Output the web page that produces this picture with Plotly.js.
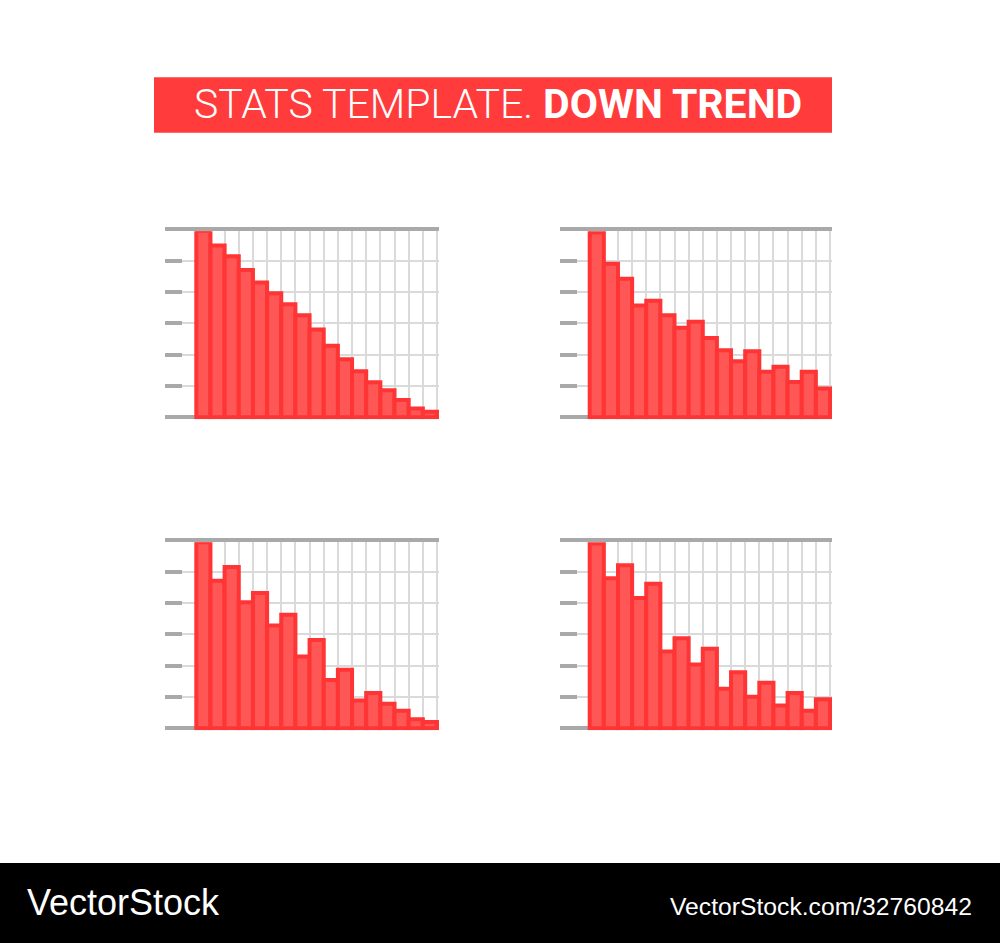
<!DOCTYPE html>
<html>
<head>
<meta charset="utf-8">
<script src="https://cdn.plot.ly/plotly-3.0.1.min.js"></script>
<style>
  html, body { margin: 0; padding: 0; background: #ffffff; }
  #chart { width: 1000px; height: 943px; }
</style>
</head>
<body>
<div id="chart"></div>
<script>
// ---- data ----
const categories = [1, 2, 3, 4, 5, 6, 7, 8, 9, 10, 11, 12, 13, 14, 15, 16, 17];
const seriesTopLeft = [5.95, 5.48, 5.14, 4.70, 4.30, 3.96, 3.61, 3.26, 2.80, 2.28, 1.85, 1.47, 1.12, 0.86, 0.55, 0.28, 0.18];
const seriesTopRight = [5.90, 4.90, 4.42, 3.57, 3.72, 3.26, 2.86, 3.05, 2.53, 2.14, 1.79, 2.11, 1.45, 1.61, 1.13, 1.45, 0.92];
const seriesBottomLeft = [5.94, 4.71, 5.15, 4.02, 4.32, 3.28, 3.62, 2.29, 2.82, 1.54, 1.87, 0.89, 1.13, 0.78, 0.56, 0.29, 0.20];
const seriesBottomRight = [5.90, 4.79, 5.20, 4.16, 4.61, 2.45, 2.87, 2.04, 2.54, 1.26, 1.79, 1.01, 1.45, 0.73, 1.13, 0.56, 0.93];
const yTickValues = [0, 1, 2, 3, 4, 5, 6];
const titleLight = "STATS TEMPLATE.";
const titleBold = "DOWN TREND";
const brandText = "VectorStock";
const brandUrl = "VectorStock.com/32760842";

// ---- layout helpers ----
const W = 1000, H = 943;
const px = v => v / W;
const py = v => 1 - v / H;

const RED_FILL = "#ff5656";
const RED_LINE = "#ff3434";
const DARK_GRAY = "#a9a9a9";
const GRID_GRAY = "#dadada";
const AXIS_W = 4;
const BAR_LINE_W = 4;

// panel geometry (pixels): plot left edge, bar block edges, value-6 line and value-0 line
const panels = [
  { data: seriesTopLeft,     left: 165, barsLeft: 196.3, barsRight: 437.0, top: 229.3, bottom: 417.3 },
  { data: seriesTopRight,    left: 560, barsLeft: 589.7, barsRight: 830.0, top: 229.3, bottom: 417.3 },
  { data: seriesBottomLeft,  left: 165, barsLeft: 196.3, barsRight: 437.0, top: 540.3, bottom: 728.3 },
  { data: seriesBottomRight, left: 560, barsLeft: 589.7, barsRight: 830.0, top: 540.3, bottom: 728.3 }
];

const gridVals = [];
for (let i = 0; i <= categories.length; i++) gridVals.push(categories[0] - 0.5 + i);

const traces = [];
const layout = {
  width: W, height: H,
  margin: { l: 0, r: 0, t: 0, b: 0 },
  paper_bgcolor: "#ffffff",
  plot_bgcolor: "rgba(0,0,0,0)",
  showlegend: false,
  bargap: 0,
  shapes: [
    { type: "rect", xref: "paper", yref: "paper", x0: px(154), x1: px(832), y0: py(132.7), y1: py(77.3),
      fillcolor: "#ff3b3b", line: { width: 0 }, layer: "below" },
    { type: "rect", xref: "paper", yref: "paper", x0: 0, x1: 1, y0: 0, y1: py(863),
      fillcolor: "#000000", line: { width: 0 }, layer: "below" }
  ],
  annotations: [
    { xref: "paper", yref: "paper", x: px(498), y: py(104), xanchor: "center", yanchor: "middle",
      text: titleLight + " <b>" + titleBold + "</b>", showarrow: false,
      font: { family: "Roboto", size: 41, color: "#ffffff", weight: 300 } },
    { xref: "paper", yref: "paper", x: px(25), y: py(902), xanchor: "left", yanchor: "middle",
      text: brandText, showarrow: false,
      font: { family: "Liberation Sans", size: 36, color: "#ffffff" } },
    { xref: "paper", yref: "paper", x: px(974), y: py(906), xanchor: "right", yanchor: "middle",
      text: brandUrl, showarrow: false,
      font: { family: "Liberation Sans", size: 24.7, color: "#ffffff" } }
  ]
};

panels.forEach((p, i) => {
  const n = i + 1;
  const suffix = n === 1 ? "" : String(n);
  const unit = (p.barsRight - p.barsLeft) / categories.length;
  const first = categories[0] - 0.5;
  const last = categories[categories.length - 1] + 0.5;
  const rangeLeft = first - (p.barsLeft - p.left) / unit;
  const rightPad = (BAR_LINE_W / 2) / unit;
  const yUnit = (p.bottom - p.top) / 6;
  const pad = (AXIS_W / 2) / yUnit;

  traces.push({
    type: "bar",
    x: categories,
    y: p.data,
    width: 1,
    xaxis: "x" + suffix,
    yaxis: "y" + suffix,
    marker: { color: RED_FILL, line: { color: RED_LINE, width: BAR_LINE_W } },
    cliponaxis: false,
    hoverinfo: "skip"
  });

  layout["xaxis" + suffix] = {
    domain: [px(p.left), px(p.barsRight + BAR_LINE_W / 2)],
    range: [rangeLeft, last + rightPad],
    anchor: "y" + suffix,
    side: "top",
    tickmode: "array",
    tickvals: gridVals,
    showticklabels: false,
    ticks: "",
    showgrid: true,
    gridcolor: GRID_GRAY,
    gridwidth: 2,
    zeroline: false,
    showline: true,
    mirror: false,
    linecolor: DARK_GRAY,
    linewidth: AXIS_W,
    layer: "below traces",
    fixedrange: true
  };
  layout["yaxis" + suffix] = {
    domain: [py(p.bottom + AXIS_W / 2), py(p.top + AXIS_W / 2)],
    range: [-pad, 6 - pad],
    anchor: "x" + suffix,
    tickmode: "array",
    tickvals: yTickValues,
    showticklabels: false,
    ticks: "inside",
    ticklen: 17,
    tickwidth: 4,
    tickcolor: DARK_GRAY,
    showgrid: true,
    gridcolor: GRID_GRAY,
    gridwidth: 2,
    zeroline: true,
    zerolinecolor: DARK_GRAY,
    zerolinewidth: AXIS_W,
    showline: false,
    layer: "below traces",
    fixedrange: true
  };
});

Plotly.newPlot("chart", traces, layout, { staticPlot: true, displayModeBar: false });
</script>
</body>
</html>
